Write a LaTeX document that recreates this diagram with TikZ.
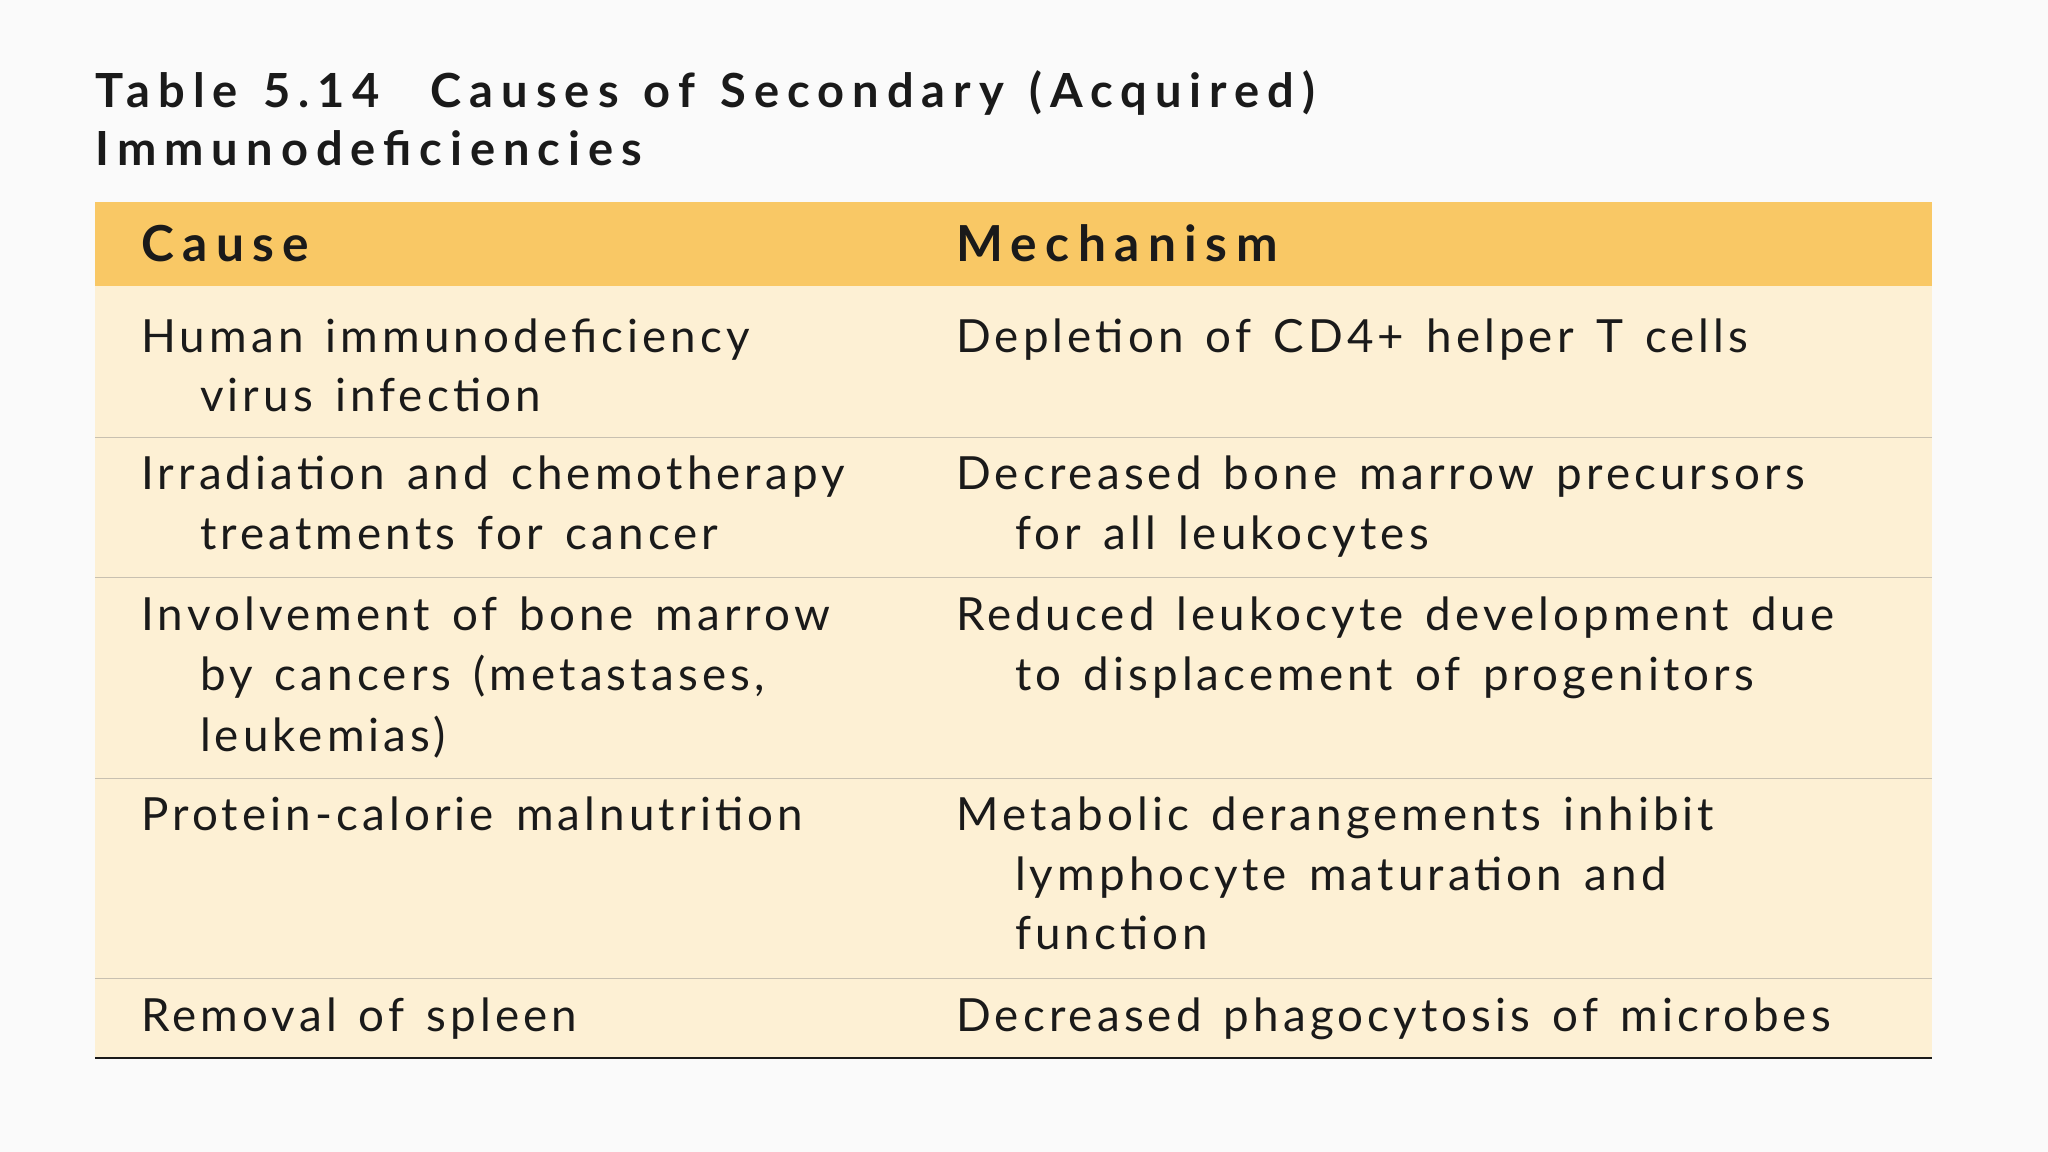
\documentclass[tikz,border=0pt]{standalone}
\usepackage{fontspec}
\setmainfont{Lato}[LetterSpace=9,WordSpace=1.4]
\newfontfamily\widebold{Lato}[LetterSpace=17,WordSpace=1.3]
\definecolor{hdr}{HTML}{F9C865}
\definecolor{cream}{HTML}{FDF0D4}
\definecolor{sep}{HTML}{C8C0B0}
\definecolor{ink}{HTML}{1A1A1A}
\begin{document}
\begin{tikzpicture}[x=1pt,y=-1pt,
  txt/.style={anchor=base west,inner sep=0pt,font=\fontsize{35}{42}\selectfont,text=ink},
  hd/.style={anchor=base west,inner sep=0pt,font=\widebold\fontsize{38}{46}\selectfont\bfseries,text=ink},
  ttl/.style={anchor=base west,inner sep=0pt,font=\widebold\fontsize{36}{42}\selectfont\bfseries,text=ink}]
\useasboundingbox (0,0) rectangle (1568,882);
\fill[white!98!black] (0,0) rectangle (1568,882);
\node[ttl] (t1) at (73,82) {Table 5.14\ \ Causes of Secondary (Acquired)};
\node[ttl] (t2) at (73,127) {Immunodeficiencies};
\fill[hdr] (73,155) rectangle (1479,219);
\fill[cream] (73,219) rectangle (1479,810);
\foreach \y in {335,442,596,749} \draw[sep,line width=1.2pt] (73,\y) -- (1479,\y);
\draw[ink,line width=2pt] (73,810) -- (1479,810);
\node[hd] (hc) at (108,200) {Cause};
\node[hd] (hm) at (732,200) {Mechanism};
\node[txt] (a1) at (108,270) {Human immunodeficiency};
\node[txt] (a2) at (153,315) {virus infection};
\node[txt] (b1) at (732,270) {Depletion of CD4+ helper T cells};
\node[txt] (c1) at (108,375) {Irradiation and chemotherapy};
\node[txt] (c2) at (153,421) {treatments for cancer};
\node[txt] (d1) at (732,375) {Decreased bone marrow precursors};
\node[txt] (d2) at (777,421) {for all leukocytes};
\node[txt] (e1) at (108,483) {Involvement of bone marrow};
\node[txt] (e2) at (153,529) {by cancers (metastases,};
\node[txt] (e3) at (153,575) {leukemias)};
\node[txt] (f1) at (732,483) {Reduced leukocyte development due};
\node[txt] (f2) at (777,529) {to displacement of progenitors};
\node[txt] (g1) at (108,636) {Protein-calorie malnutrition};
\node[txt] (h1) at (732,636) {Metabolic derangements inhibit};
\node[txt] (h2) at (777,682) {lymphocyte maturation and};
\node[txt] (h3) at (777,727) {function};
\node[txt] (i1) at (108,790) {Removal of spleen};
\node[txt] (j1) at (732,790) {Decreased phagocytosis of microbes};
\end{tikzpicture}
\end{document}
